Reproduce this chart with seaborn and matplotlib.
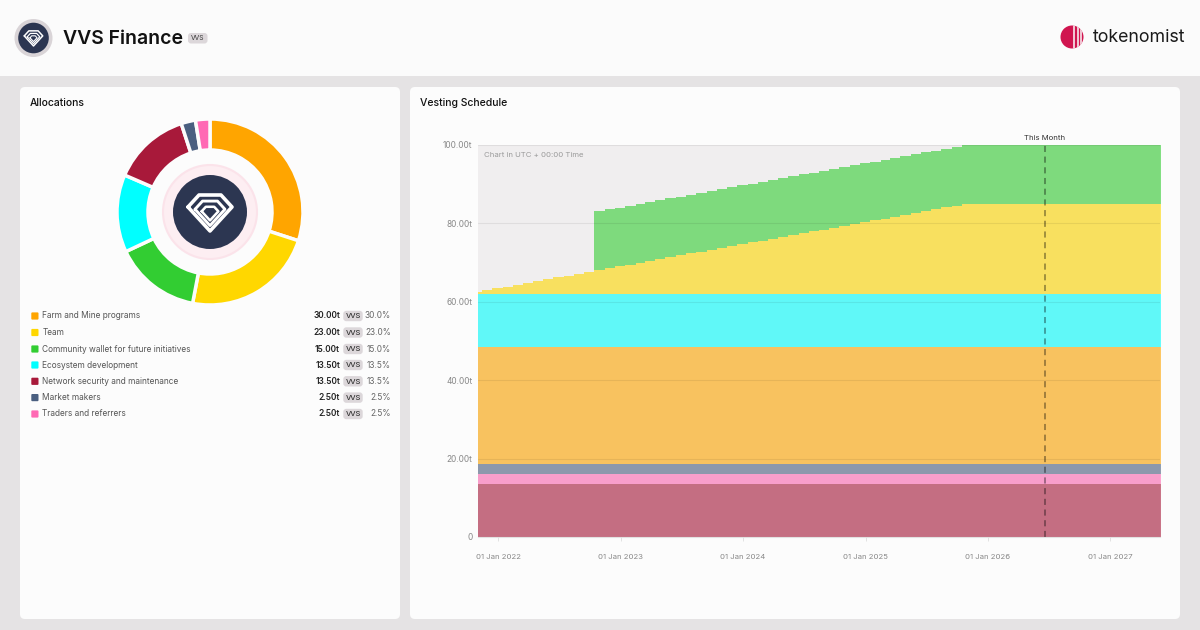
import numpy as np
import pandas as pd
import matplotlib.pyplot as plt
import matplotlib.dates as mdates
from matplotlib.patches import FancyBboxPatch, Circle
import seaborn as sns

# allocation table
categories = ["Farm and Mine programs", "Team", "Community wallet for future initiatives",
              "Ecosystem development", "Network security and maintenance", "Market makers",
              "Traders and referrers"]
amounts = ["30.00t", "23.00t", "15.00t", "13.50t", "13.50t", "2.50t", "2.50t"]
shares = [30.0, 23.0, 15.0, 13.5, 13.5, 2.5, 2.5]
colors = ["#ffa500", "#ffd700", "#32cd32", "#00ffff", "#a8193a", "#4a5f80", "#ff69b4"]

# vesting schedule, cumulative unlocked (t VVS), one value per month (15th)
months = pd.date_range("2021-10-01", "2027-06-01", freq="MS") + pd.Timedelta(days=14)
team_unlocked = [0.47, 0.94, 1.41, 1.88, 2.35, 2.82, 3.29, 3.76, 4.22, 4.69, 5.16, 5.63,
                 6.10, 6.57, 7.04, 7.51, 7.98, 8.45, 8.92, 9.39, 9.86, 10.33, 10.80, 11.27,
                 11.73, 12.20, 12.67, 13.14, 13.61, 14.08, 14.55, 15.02, 15.49, 15.96, 16.43,
                 16.90, 17.37, 17.84, 18.31, 18.78, 19.24, 19.71, 20.18, 20.65, 21.12, 21.59,
                 22.06, 22.53, 23.00] + [23.00] * 20
community_unlocked = [0.0] * 12 + [15.0] * 57
farm_unlocked = [30.0] * 69
ecosystem_unlocked = [13.5] * 69
network_unlocked = [13.5] * 69
market_unlocked = [2.5] * 69
traders_unlocked = [2.5] * 69

year_ticks = ["2022-01-01", "2023-01-01", "2024-01-01", "2025-01-01", "2026-01-01", "2027-01-01"]
y_ticks = [0, 20, 40, 60, 80, 100]
this_month = "2026-06-20"

sns.set_theme(style="white")
plt.rcParams['font.family'] = ['Inter', 'DejaVu Sans']

BG = "#e5e3e4"
CARD = "#fcfcfc"
NAVY = "#2c3651"

fig = plt.figure(figsize=(12, 6.3), dpi=100, facecolor=BG)

# background layer in pixel coords
bg = fig.add_axes([0, 0, 1, 1], zorder=-5)
bg.set_xlim(0, 1200)
bg.set_ylim(630, 0)
bg.axis('off')

bg.add_patch(plt.Rectangle((0, 0), 1200, 76, color="#fbfbfb", lw=0))
bg.add_patch(FancyBboxPatch((20, 87), 380, 532, boxstyle="round,pad=0,rounding_size=5",
                            fc=CARD, ec="none"))
bg.add_patch(FancyBboxPatch((410, 87), 770, 532, boxstyle="round,pad=0,rounding_size=5",
                            fc=CARD, ec="none"))


def gem(cx, cy, s, lw):
    shape = np.array([(-22, -5), (-11, -17), (11, -17), (22, -5), (0, 19), (-22, -5)])
    for k, w in zip([1.0, 0.68, 0.38], [lw, lw * 0.8, lw * 0.7]):
        pts = shape * s * k
        bg.plot(cx + pts[:, 0], cy + pts[:, 1] + 2 * s * (1 - k), color="white", lw=w,
                solid_joinstyle="round", solid_capstyle="round")


# header
bg.add_patch(Circle((33.5, 38), 19, color="#d9d4d7", lw=0))
bg.add_patch(Circle((33.5, 38), 15.3, color=NAVY, lw=0))
gem(33.5, 38, 0.42, 1.1)
bg.text(63, 39, "VVS Finance", fontsize=14, fontweight="semibold", color="#111111",
        va="center", ha="left")
bg.add_patch(FancyBboxPatch((188, 33), 19.5, 10.5, boxstyle="round,pad=0,rounding_size=3",
                            fc="#dcd7da", ec="none"))
bg.text(197.7, 38.5, "VVS", fontsize=4.8, color="#333333", va="center", ha="center")

# tokenomist logo
logo = Circle((1072, 37), 11.5, color="#d0154f", lw=0)
bg.add_patch(logo)
for xs in [1073.5, 1077.5, 1081.2]:
    ln, = bg.plot([xs, xs], [20, 55], color="#fbfbfb", lw=1.1)
    ln.set_clip_path(logo)
bg.text(1093, 37, "tokenomist", fontsize=12.8, color="#1a1a1a", va="center", ha="left")

# card titles
bg.text(30, 103, "Allocations", fontsize=7.5, fontweight="medium", color="#111111", va="center")
bg.text(420, 103, "Vesting Schedule", fontsize=7.5, fontweight="medium", color="#111111",
        va="center")

# donut
pie_ax = fig.add_axes([110 / 1200, 1 - 312 / 630, 200 / 1200, 200 / 630])
pie_ax.set_facecolor("none")
pie_ax.pie(shares, colors=colors, startangle=90, counterclock=False, radius=0.93,
           wedgeprops=dict(width=0.31, edgecolor=CARD, linewidth=2.5))
pie_ax.set_xlim(-1, 1)
pie_ax.set_ylim(-1, 1)
pie_ax.set_aspect("equal")
pie_ax.axis('off')

bg.add_patch(Circle((210, 212), 47, fc="#fdeef2", ec="#fbe3ea", lw=1.5))
bg.add_patch(Circle((210, 212), 37, color=NAVY, lw=0))
gem(210, 212, 1.0, 2.6)

# legend rows
row_y = [316, 332.5, 349, 365, 381.3, 397.6, 414]
for i, (name, amt, pct, col) in enumerate(zip(categories, amounts, shares, colors)):
    y = row_y[i]
    bg.add_patch(FancyBboxPatch((31.3, y - 3.6), 7.2, 7.2, boxstyle="round,pad=0,rounding_size=1",
                                fc=col, ec="none"))
    bg.text(42.5, y, name, fontsize=6.0, color="#555555", va="center", ha="left")
    bg.text(340, y, amt, fontsize=6.0, fontweight="semibold", color="#222222", va="center",
            ha="right")
    bg.add_patch(FancyBboxPatch((343.3, y - 5.2), 19.4, 10.4,
                                boxstyle="round,pad=0,rounding_size=3", fc="#dcd7da", ec="none"))
    bg.text(353, y + 0.3, "VVS", fontsize=5.4, fontweight="medium", color="#333333",
            va="center", ha="center")
    bg.text(391, y, f"{pct:.1f}%", fontsize=6.0, color="#666666", va="center", ha="right")

# vesting chart
ax = fig.add_axes([478 / 1200, 1 - 537 / 630, 682 / 1200, 392 / 630])
ax.set_facecolor("#f0eeef")
layers = [network_unlocked, traders_unlocked, market_unlocked, farm_unlocked,
          ecosystem_unlocked, team_unlocked, community_unlocked]
layer_colors = ["#a8193a", "#ff69b4", "#4a5f80", "#ffa500", "#00ffff", "#ffd700", "#32cd32"]
ax.stackplot(months, layers, colors=layer_colors, alpha=0.6, step="post", lw=0)

ax.set_xlim(pd.Timestamp("2021-11-02"), pd.Timestamp("2027-05-29"))
ax.set_ylim(0, 100)
ax.set_yticks(y_ticks)
ax.set_yticklabels(["0" if v == 0 else f"{v:.2f}t" for v in y_ticks])
ax.set_xticks(pd.to_datetime(year_ticks))
ax.xaxis.set_major_formatter(mdates.DateFormatter("%d %b %Y"))
ax.tick_params(axis="y", length=0, pad=4, labelsize=6.0, labelcolor="#888888")
ax.tick_params(axis="x", length=3, width=0.6, color="#dddddd", pad=9, labelsize=5.6,
               labelcolor="#888888", bottom=True)
ax.set_axisbelow(False)
ax.grid(axis="y", color="#000000", alpha=0.07, lw=0.8)
ax.grid(axis="x", visible=False)
for side in ["left", "right", "top"]:
    ax.spines[side].set_visible(False)
ax.spines["bottom"].set_color("#e2e2e2")
ax.spines["bottom"].set_linewidth(0.8)

ax.axvline(pd.Timestamp(this_month), color="#000000", alpha=0.45, lw=1.1, ls=(0, (4, 3)))
ax.text(pd.Timestamp(this_month), 100.9, "This Month", fontsize=5.6, color="#333333",
        ha="center", va="bottom")
ax.text(0.009, 0.983, "Chart in UTC + 00:00 Time", transform=ax.transAxes, fontsize=5.6,
        color="#9a9a9a", ha="left", va="top")

fig.savefig("out.png", dpi=100, facecolor=BG)
